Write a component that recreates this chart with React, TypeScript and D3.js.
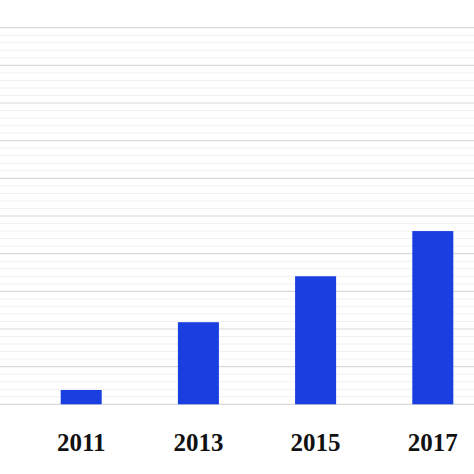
import React from "react";
import { scaleBand, scaleLinear, range } from "d3";

const years = ["2011", "2013", "2015", "2017"];
const values = [1.9, 10.9, 17.0, 23.0];
const yMax = 50;
const majorStep = 5;

const W = 474;
const H = 474;

export default function App() {
  const x = scaleBand<string>()
    .domain(years)
    .range([22.6, 491.4])
    .paddingInner(0.65)
    .paddingOuter(0.325);

  const y = scaleLinear().domain([0, yMax]).range([404.3, 27.7]);

  const minorTicks = range(0, yMax + 1, 1).filter((v) => v % majorStep !== 0);
  const majorTicks = range(0, yMax + 1, majorStep);

  return (
    <svg
      width={W}
      height={H}
      style={{ position: "fixed", left: 0, top: 0, background: "#fff" }}
    >
      {/* minor grid */}
      {minorTicks.map((t) => (
        <line key={"m" + t} x1={0} x2={W} y1={y(t)} y2={y(t)} stroke="#f1f1f1" strokeWidth={1} />
      ))}
      {/* major grid */}
      {majorTicks.map((t) => (
        <line key={"M" + t} x1={0} x2={W} y1={y(t)} y2={y(t)} stroke="#d9d9d9" strokeWidth={1.2} />
      ))}
      {/* bars */}
      {years.map((yr, i) => (
        <rect
          key={yr}
          x={x(yr)}
          y={y(values[i])}
          width={x.bandwidth()}
          height={y(0) - y(values[i])}
          fill="#1a3fe0"
        />
      ))}
      {/* category labels */}
      {years.map((yr) => (
        <text
          key={"t" + yr}
          x={(x(yr) ?? 0) + x.bandwidth() / 2}
          y={450.7}
          textAnchor="middle"
          style={{ fontFamily: "'Liberation Serif', 'DejaVu Serif', serif", fontWeight: "bold", fontSize: 25, fill: "#111" }}
        >
          {yr}
        </text>
      ))}
    </svg>
  );
}
